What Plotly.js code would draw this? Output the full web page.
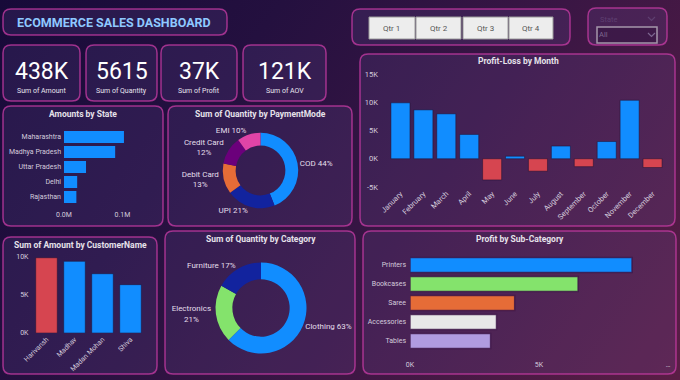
<!DOCTYPE html>
<html><head><meta charset="utf-8">
<script src="https://cdn.plot.ly/plotly-3.0.1.min.js"></script>
<style>
html,body{margin:0;padding:0;width:680px;height:380px;overflow:hidden;}
body{background:linear-gradient(125deg,#170a39 0%,#24103f 30%,#3a1644 60%,#5a1e45 100%);}
#chart{width:680px;height:380px;}
</style></head><body><div id="chart"></div>
<script>
// ---------- data ----------
const dashboardTitle = 'ECOMMERCE SALES DASHBOARD';
const kpiValues = ['438K', '5615', '37K', '121K'];
const kpiLabels = ['Sum of Amount', 'Sum of Quantity', 'Sum of Profit', 'Sum of AOV'];
const quarters = ['Qtr 1', 'Qtr 2', 'Qtr 3', 'Qtr 4'];
const slicerTitle = 'State';
const slicerValue = 'All';

const states = ['Maharashtra', 'Madhya Pradesh', 'Uttar Pradesh', 'Delhi', 'Rajasthan'];
const stateAmount = [102498, 87463, 37637, 22531, 21149];
const stateTicks = [0, 100000];
const stateTickText = ['0.0M', '0.1M'];

const payModes = ['COD', 'UPI', 'Debit Card', 'Credit Card', 'EMI'];
const payQty = [2466, 1180, 730, 675, 564];

const months = ['January', 'February', 'March', 'April', 'May', 'June', 'July', 'August', 'September', 'October', 'November', 'December'];
const monthProfit = [9900, 8650, 7950, 4300, -3750, 450, -2200, 2250, -1400, 3050, 10350, -1550];
const monthTicks = [-5000, 0, 5000, 10000, 15000];
const monthTickText = ['-5K', '0K', '5K', '10K', '15K'];

const customers = ['Harivansh', 'Madhav', 'Madan Mohan', 'Shiva'];
const customerAmount = [9902, 9430, 7800, 6360];
const customerTicks = [0, 5000, 10000];
const customerTickText = ['0K', '5K', '10K'];

const categories = ['Clothing', 'Electronics', 'Furniture'];
const categoryQty = [3516, 1154, 945];

const subCategories = ['Printers', 'Bookcases', 'Saree', 'Accessories', 'Tables'];
const subCatProfit = [8606, 6516, 4057, 3353, 3124];
const subCatTicks = [0, 5000, 10000];
const subCatTickText = ['0K', '5K', '\u2026'];

const titleState = 'Amounts by State';
const titlePay = 'Sum of Quantity by PaymentMode';
const titleMonth = 'Profit-Loss by Month';
const titleCustomer = 'Sum of Amount by CustomerName';
const titleCategory = 'Sum of Quantity by Category';
const titleSubCat = 'Profit by Sub-Category';

// ---------- styling ----------
const W = 680, H = 380;
const X = p => p / W;
const Y = p => 1 - p / H;
const BLUE = '#118DFF', RED = '#D64550', NAVY = '#12239E', ORANGE = '#E66C37',
      PURPLE = '#6B007B', PINK = '#E044A7', GREEN = '#84E36C', LIGHT = '#E8E8E8', LAV = '#B09BE0';
const FONT = 'Roboto, "Noto Sans", sans-serif';
const tickFont = {family: FONT, size: 7, color: '#d4cbdc'};

function rrect(x0, y0, x1, y1, r, fill, line, lw) {
  const a = X(x0), b = X(x1), t = Y(y0), bt = Y(y1), rx = r / W, ry = r / H;
  const path = `M ${a + rx},${t} L ${b - rx},${t} Q ${b},${t} ${b},${t - ry} L ${b},${bt + ry} Q ${b},${bt} ${b - rx},${bt} L ${a + rx},${bt} Q ${a},${bt} ${a},${bt + ry} L ${a},${t - ry} Q ${a},${t} ${a + rx},${t} Z`;
  return {type: 'path', xref: 'paper', yref: 'paper', path, fillcolor: fill, line: {color: line, width: lw}, layer: 'below'};
}
const PFILL = 'rgba(130,105,190,0.14)', PLINE = 'rgba(200,60,165,0.75)';
const shapes = [
  rrect(3, 9, 227, 35, 8, PFILL, PLINE, 1.5),
  rrect(3, 45, 80, 101, 8, PFILL, PLINE, 1.5),
  rrect(86, 45, 157, 101, 8, PFILL, PLINE, 1.5),
  rrect(161, 45, 237, 101, 8, PFILL, PLINE, 1.5),
  rrect(243, 45, 326, 101, 8, PFILL, PLINE, 1.5),
  rrect(352, 9, 570, 45, 8, PFILL, PLINE, 1.5),
  rrect(588, 8, 667, 45, 8, PFILL, PLINE, 1.5),
  rrect(3, 106, 163, 226, 8, PFILL, PLINE, 1.5),
  rrect(168, 106, 352, 226, 8, PFILL, PLINE, 1.5),
  rrect(360, 54, 675, 226, 8, PFILL, PLINE, 1.5),
  rrect(3, 237, 157, 374, 8, PFILL, PLINE, 1.5),
  rrect(165, 231, 355, 374, 8, PFILL, PLINE, 1.5),
  rrect(363, 231, 676, 374, 8, PFILL, PLINE, 1.5),
  {type: 'rect', xref: 'paper', yref: 'paper', x0: X(597), x1: X(657), y0: Y(43), y1: Y(27),
   fillcolor: 'rgba(40,10,50,0.35)', line: {color: '#a596aa', width: 1.5}, layer: 'below'},
  {type: 'path', xref: 'paper', yref: 'paper', path: `M ${X(648)},${Y(17)} L ${X(651.5)},${Y(20.5)} L ${X(655)},${Y(17)}`, line: {color: '#5e3f70', width: 1.2}},
  {type: 'path', xref: 'paper', yref: 'paper', path: `M ${X(648)},${Y(33)} L ${X(651.5)},${Y(36.5)} L ${X(655)},${Y(33)}`, line: {color: '#7d6690', width: 1.2}}
];
const qtrBounds = [[369, 415], [416, 461], [463, 508], [509, 553]];
qtrBounds.forEach(([a, b]) => shapes.push({type: 'rect', xref: 'paper', yref: 'paper', x0: X(a), x1: X(b), y0: Y(39), y1: Y(17),
  fillcolor: '#ededed', line: {color: '#9a9a9a', width: 1}, layer: 'below'}));

const annotations = [];
function txt(x, y, text, size, color, opts = {}) {
  annotations.push(Object.assign({xref: 'paper', yref: 'paper', x: X(x), y: Y(y), text, showarrow: false,
    xanchor: 'center', yanchor: 'middle', font: {family: FONT, size, color}}, opts));
}
txt(113.5, 22.5, '<b>' + dashboardTitle + '</b>', 12.5, '#8ec8ff');
const kpiCenters = [41.5, 121.5, 199, 284.5];
kpiValues.forEach((v, i) => {
  txt(kpiCenters[i], 71, v, 23, '#ffffff');
  txt(kpiCenters[i], 91, kpiLabels[i], 7, '#e8e4ee');
});
quarters.forEach((q, i) => txt((qtrBounds[i][0] + qtrBounds[i][1]) / 2, 28, q, 8, '#555555'));
txt(608, 19, slicerTitle, 7.5, '#5e3f70');
txt(603.5, 35, slicerValue, 7.5, '#7d6690');
[[83, 114, titleState], [260.5, 114, titlePay], [518, 61, titleMonth],
 [80, 245, titleCustomer], [260.5, 239, titleCategory], [520, 239, titleSubCat]].forEach(([x, y, t]) =>
  txt(x, y, '<b>' + t + '</b>', 8.5, '#e6e2ea'));

// ---------- traces ----------
const traces = [
  {type: 'bar', orientation: 'h', x: stateAmount, y: states, xaxis: 'x', yaxis: 'y',
   marker: {color: BLUE}, width: 0.8},
  {type: 'pie', labels: payModes, values: payQty, hole: 0.66, sort: false, direction: 'clockwise', rotation: 0,
   domain: {x: [X(222.8), X(298.2)], y: [Y(208.2), Y(132.8)]},
   marker: {colors: [BLUE, NAVY, ORANGE, PURPLE, PINK], line: {width: 0}},
   textposition: 'outside',
   texttemplate: ['%{label} %{percent:.0%}', '%{label} %{percent:.0%}', '%{label}<br>%{percent:.0%}', '%{label}<br>%{percent:.0%}', '%{label} %{percent:.0%}'],
   outsidetextfont: {family: FONT, size: 8, color: '#e4dfea'}},
  {type: 'bar', x: months, y: monthProfit, xaxis: 'x2', yaxis: 'y2', width: 0.83,
   marker: {color: monthProfit.map(v => v >= 0 ? BLUE : RED), line: {color: 'rgba(30,15,50,0.5)', width: 1}}},
  {type: 'bar', x: customers, y: customerAmount, xaxis: 'x3', yaxis: 'y3', width: 0.77,
   marker: {color: customerAmount.map(v => v === Math.max(...customerAmount) ? RED : BLUE), line: {color: 'rgba(30,15,50,0.5)', width: 1}}},
  {type: 'pie', labels: categories, values: categoryQty, hole: 0.63, sort: false, direction: 'clockwise', rotation: 0,
   domain: {x: [X(215.5), X(306.5)], y: [Y(353.5), Y(262.5)]},
   marker: {colors: [BLUE, GREEN, NAVY], line: {width: 0}},
   textposition: 'outside',
   texttemplate: ['%{label} %{percent:.0%}', '%{label}<br>%{percent:.0%}', '%{label} %{percent:.0%}'],
   outsidetextfont: {family: FONT, size: 8, color: '#e4dfea'}},
  {type: 'bar', orientation: 'h', x: subCatProfit, y: subCategories, xaxis: 'x4', yaxis: 'y4', width: 0.79,
   marker: {color: [BLUE, GREEN, ORANGE, LIGHT, LAV], line: {color: 'rgba(60,20,70,0.8)', width: 1.5}}}
];

const baseAxis = {showgrid: false, zeroline: false, showline: false, ticks: '', tickfont: tickFont, fixedrange: true};
const layout = {
  width: W, height: H, margin: {l: 0, r: 0, t: 0, b: 0},
  paper_bgcolor: 'rgba(0,0,0,0)', plot_bgcolor: 'rgba(0,0,0,0)',
  showlegend: false, hovermode: false,
  xaxis: Object.assign({}, baseAxis, {domain: [X(64), X(128)], range: [0, 64 / 58.5 * 100000], tickvals: stateTicks, ticktext: stateTickText, anchor: 'y', ticklabelstandoff: 4}),
  yaxis: Object.assign({}, baseAxis, {domain: [Y(204.5), Y(129.5)], autorange: 'reversed', anchor: 'x', ticklabelstandoff: 2}),
  xaxis2: Object.assign({}, baseAxis, {domain: [X(389), X(664)], anchor: 'y2', tickangle: -45, tickfont: Object.assign({}, tickFont, {size: 7.5})}),
  yaxis2: Object.assign({}, baseAxis, {domain: [Y(187), Y(74)], range: [-5000, 15000], tickvals: monthTicks, ticktext: monthTickText, anchor: 'x2', ticklabelstandoff: 10, tickfont: Object.assign({}, tickFont, {size: 7.5})}),
  xaxis3: Object.assign({}, baseAxis, {domain: [X(32.5), X(144.5)], anchor: 'y3', tickangle: -45}),
  yaxis3: Object.assign({}, baseAxis, {domain: [Y(333), Y(257)], range: [0, 10000], tickvals: customerTicks, ticktext: customerTickText, anchor: 'x3', ticklabelstandoff: 3}),
  xaxis4: Object.assign({}, baseAxis, {domain: [X(410), X(668)], range: [0, 10000], tickvals: subCatTicks, ticktext: subCatTickText, anchor: 'y4', ticklabelstandoff: 8}),
  yaxis4: Object.assign({}, baseAxis, {domain: [Y(350.5), Y(255.5)], autorange: 'reversed', anchor: 'x4', ticklabelstandoff: 3}),
  shapes, annotations
};
Plotly.newPlot('chart', traces, layout, {displayModeBar: false, staticPlot: true});
</script></body></html>
